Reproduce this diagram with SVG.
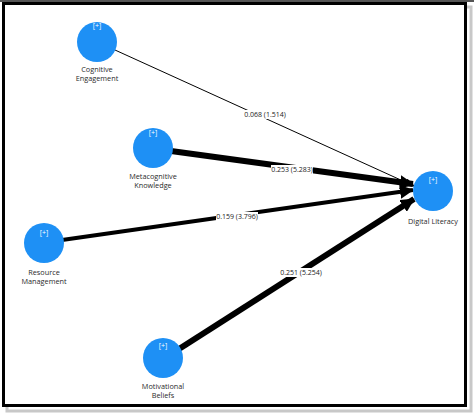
<svg xmlns="http://www.w3.org/2000/svg" width="474" height="413" viewBox="0 0 474 413">
  <style>
    .node circle { fill: #1e90f5; }
    .plus { font-family: "Open Sans", "Liberation Sans", sans-serif; font-size: 7px; fill: #ffffff; text-anchor: middle; }
    .name { font-family: "Open Sans", "Liberation Sans", sans-serif; font-size: 7.3px; fill: #2a2a2a; text-anchor: middle; }
    .edge { stroke: #000000; fill: none; }
    .elabel { font-family: "Open Sans", "Liberation Sans", sans-serif; font-size: 7px; fill: #1a1a1a; text-anchor: middle; }
    .lbg { fill: #ffffff; }
  </style>
  <defs>
    <marker id="arrowThin" markerUnits="userSpaceOnUse" markerWidth="10" markerHeight="8" refX="9" refY="4" orient="auto">
      <path d="M0,0 L10,4 L0,8 Z" fill="#000"/>
    </marker>
    <marker id="arrowThick" markerUnits="userSpaceOnUse" markerWidth="14" markerHeight="14" refX="13" refY="7" orient="auto">
      <path d="M0,0 L14,7 L0,14 Z" fill="#000"/>
    </marker>
  </defs>

  <!-- frame with drop shadow -->
  <rect x="0" y="0" width="474" height="2" fill="#555555"/>
  <rect x="7" y="7" width="464" height="404" fill="none" stroke="#c8c8c8" stroke-width="3"/>
  <rect x="3.5" y="3.5" width="462" height="402" fill="#ffffff" stroke="#000000" stroke-width="3"/>

  <g id="connectors">
    <line class="edge" x1="115" y1="50" x2="414" y2="186" stroke-width="1" marker-end="url(#arrowThin)"/>
    <line class="edge" x1="171" y1="151" x2="413" y2="184" stroke-width="6" marker-end="url(#arrowThick)"/>
    <line class="edge" x1="62" y1="240" x2="413" y2="190" stroke-width="4" marker-end="url(#arrowThick)"/>
    <line class="edge" x1="179" y1="349" x2="414" y2="199" stroke-width="6" marker-end="url(#arrowThick)"/>

    <rect class="lbg" x="244" y="110" width="42" height="9"/>
    <text class="elabel" x="265" y="117">0.068 (1.514)</text>
    <rect class="lbg" x="271" y="165" width="42" height="9"/>
    <text class="elabel" x="292" y="172">0.253 (5.283)</text>
    <rect class="lbg" x="216" y="212" width="42" height="9"/>
    <text class="elabel" x="237" y="219">0.159 (3.796)</text>
    <rect class="lbg" x="280" y="268" width="42" height="9"/>
    <text class="elabel" x="301" y="275">0.251 (5.254)</text>
  </g>

  <g id="cognitive-engagement" class="node">
    <circle cx="97" cy="42" r="20"/>
    <text class="plus" x="97" y="28">[+]</text>
    <text class="name" x="97" y="72">Cognitive</text>
    <text class="name" x="97" y="81">Engagement</text>
  </g>

  <g id="metacognitive-knowledge" class="node">
    <circle cx="153" cy="148" r="20"/>
    <text class="plus" x="153" y="135">[+]</text>
    <text class="name" x="153" y="179">Metacognitive</text>
    <text class="name" x="153" y="188">Knowledge</text>
  </g>

  <g id="resource-management" class="node">
    <circle cx="44" cy="243" r="20"/>
    <text class="plus" x="44" y="235">[+]</text>
    <text class="name" x="44" y="275">Resource</text>
    <text class="name" x="44" y="284">Management</text>
  </g>

  <g id="motivational-beliefs" class="node">
    <circle cx="163" cy="358" r="20"/>
    <text class="plus" x="163" y="348">[+]</text>
    <text class="name" x="163" y="389">Motivational</text>
    <text class="name" x="163" y="398">Beliefs</text>
  </g>

  <g id="digital-literacy" class="node">
    <circle cx="433" cy="191" r="20"/>
    <text class="plus" x="433" y="182">[+]</text>
    <text class="name" x="433" y="224">Digital Literacy</text>
  </g>
</svg>
